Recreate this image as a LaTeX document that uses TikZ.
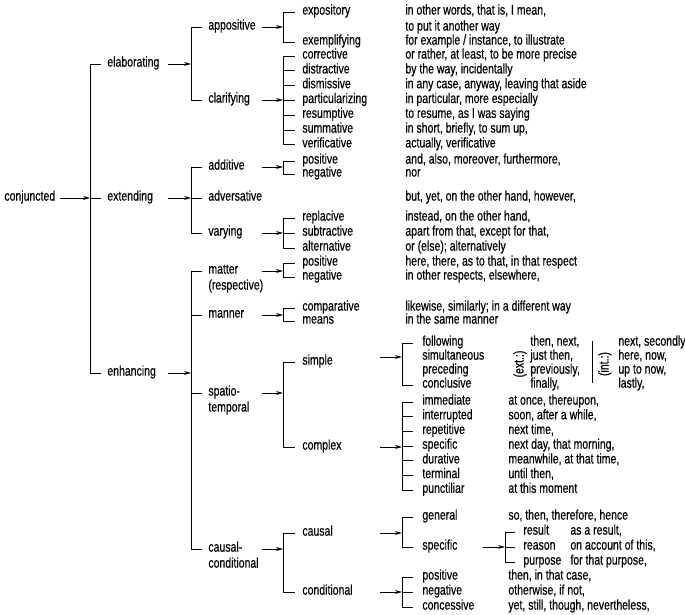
\documentclass[tikz,border=0pt]{standalone}
\usepackage{fontspec}
\setmainfont{Liberation Sans}[FakeStretch=0.75,FakeBold=0.4]
\usetikzlibrary{arrows.meta}

\begin{document}
\begin{tikzpicture}[x=1pt,y=-1pt,line width=0.8pt,
    lbl/.style={anchor=mid west,inner sep=0pt,font=\fontsize{14}{16}\selectfont},
    arr/.style={-{Stealth[length=7pt,width=4pt]}}]
    \useasboundingbox (0,0) rectangle (685,615);
    % columns of the brackets and of the arrow tails
    \coordinate (b1) at (90,0);
    \coordinate (b2) at (191,0);
    \coordinate (b3) at (283,0);
    \coordinate (b4) at (402,0);
    \coordinate (b5) at (505,0);
    \coordinate (a1) at (168,0);
    \coordinate (a2) at (262,0);
    \coordinate (a4) at (380,0);
    \coordinate (a5) at (483,0);

    % first levels
    \node[lbl] (conj) at (4,198) {conjuncted};
    \node[lbl] (elab) at (107,64) {elaborating};
    \node[lbl] (ext) at (107,198) {extending};
    \node[lbl] (enh) at (107,373) {enhancing};

    \node[lbl] (appos) at (208,27) {appositive};
    \node[lbl] (clar) at (208,100) {clarifying};
    \node[lbl] (addit) at (208,167) {additive};
    \node[lbl] (advers) at (208,198) {adversative};
    \node[lbl] (vary) at (208,233) {varying};
    % two-line labels: the base is the second line
    \node[lbl,align=left] (matter) at (208,287) {matter\\(respective)};
    \coordinate (matter-t) at ([yshift=16pt]matter.mid west);
    \node[lbl] (manner) at (208,315) {manner};
    \node[lbl,align=left] (spatio) at (208,409) {spatio-\\temporal};
    \coordinate (spatio-t) at ([yshift=16pt]spatio.mid west);
    \node[lbl,align=left] (caus) at (208,565) {causal-\\conditional};
    \coordinate (caus-t) at ([yshift=16pt]caus.mid west);

    % third level
    \node[lbl] (expos) at (302,12) {expository};
    \node[lbl] (exemp) at (302,42) {exemplifying};
    \node[lbl] (corr) at (302,56) {corrective};
    \node[lbl] (distr) at (302,70.8) {distractive};
    \node[lbl] (dism) at (302,85.6) {dismissive};
    \node[lbl] (partic) at (302,100.4) {particularizing};
    \node[lbl] (resum) at (302,115.2) {resumptive};
    \node[lbl] (summ) at (302,130) {summative};
    \node[lbl] (verif) at (302,144.8) {verificative};
    \node[lbl] (addpos) at (302,161) {positive};
    \node[lbl] (addneg) at (302,174) {negative};
    \node[lbl] (repl) at (302,218) {replacive};
    \node[lbl] (subtr) at (302,233) {subtractive};
    \node[lbl] (altern) at (302,248) {alternative};
    \node[lbl] (matpos) at (302,263) {positive};
    \node[lbl] (matneg) at (302,277) {negative};
    \node[lbl] (compar) at (302,308) {comparative};
    \node[lbl] (means) at (302,321) {means};
    \node[lbl] (simple) at (302,362) {simple};
    \node[lbl] (complex) at (302,447) {complex};
    \node[lbl] (causal) at (302,533) {causal};
    \node[lbl] (condit) at (302,592) {conditional};

    % examples
    \node[lbl] at (405,12) {in other words, that is, I mean,};
    \node[lbl] at (405,28) {to put it another way};
    \node[lbl] at (405,42) {for example / instance, to illustrate};
    \node[lbl] at (405,56) {or rather, at least, to be more precise};
    \node[lbl] at (405,70.8) {by the way, incidentally};
    \node[lbl] at (405,85.6) {in any case, anyway, leaving that aside};
    \node[lbl] at (405,100.4) {in particular, more especially};
    \node[lbl] at (405,115.2) {to resume, as I was saying};
    \node[lbl] at (405,130) {in short, briefly, to sum up,};
    \node[lbl] at (405,144.8) {actually, verificative};
    \node[lbl] at (405,161) {and, also, moreover, furthermore,};
    \node[lbl] at (405,174) {nor};
    \node[lbl] at (405,198) {but, yet, on the other hand, however,};
    \node[lbl] at (405,218) {instead, on the other hand,};
    \node[lbl] at (405,233) {apart from that, except for that,};
    \node[lbl] at (405,248) {or (else); alternatively};
    \node[lbl] at (405,263) {here, there, as to that, in that respect};
    \node[lbl] at (405,277) {in other respects, elsewhere,};
    \node[lbl] at (405,308) {likewise, similarly; in a different way};
    \node[lbl] at (405,321) {in the same manner};

    % fourth level
    \node[lbl] (follow) at (422,343) {following};
    \node[lbl] (simul) at (422,357) {simultaneous};
    \node[lbl] (preced) at (422,371) {preceding};
    \node[lbl] (concl) at (422,385) {conclusive};
    \node[lbl] (immed) at (422,402) {immediate};
    \node[lbl] (interr) at (422,416.7) {interrupted};
    \node[lbl] (repet) at (422,431.4) {repetitive};
    \node[lbl] (specif) at (422,446.1) {specific};
    \node[lbl] (durat) at (422,460.8) {durative};
    \node[lbl] (termin) at (422,475.5) {terminal};
    \node[lbl] (punct) at (422,490.2) {punctiliar};
    \node[lbl] (general) at (422,517) {general};
    \node[lbl] (specc) at (422,547) {specific};
    \node[lbl] (cpos) at (422,577) {positive};
    \node[lbl] (cneg) at (422,592) {negative};
    \node[lbl] (conces) at (422,607) {concessive};

    \node[lbl] (result) at (523,532) {result};
    \node[lbl] (reason) at (523,547) {reason};
    \node[lbl] (purpose) at (523,562) {purpose};

    % simple: external and internal
    \node[lbl,anchor=center,rotate=90] (extl) at (520,364) {(ext.:)};
    \node[lbl] at (530,343) {then, next,};
    \node[lbl] at (530,357) {just then,};
    \node[lbl] at (530,371) {previously,};
    \node[lbl] at (530,385) {finally,};
    \draw (592,341) -- (592,383);
    \node[lbl,anchor=center,rotate=90] (intl) at (605,364) {(int.:)};
    \node[lbl] at (618,343) {next, secondly};
    \node[lbl] at (618,357) {here, now,};
    \node[lbl] at (618,371) {up to now,};
    \node[lbl] at (618,385) {lastly,};

    \node[lbl] at (508,402) {at once, thereupon,};
    \node[lbl] at (508,416.7) {soon, after a while,};
    \node[lbl] at (508,431.4) {next time,};
    \node[lbl] at (508,446.1) {next day, that morning,};
    \node[lbl] at (508,460.8) {meanwhile, at that time,};
    \node[lbl] at (508,475.5) {until then,};
    \node[lbl] at (508,490.2) {at this moment};
    \node[lbl] at (508,517) {so, then, therefore, hence};
    \node[lbl] at (570,532) {as a result,};
    \node[lbl] at (570,547) {on account of this,};
    \node[lbl] at (570,562) {for that purpose,};
    \node[lbl] at (508,577) {then, in that case,};
    \node[lbl] at (508,592) {otherwise, if not,};
    \node[lbl] at (508,607) {yet, still, though, nevertheless,};

    % arrows
    \draw[arr] ([xshift=4pt]conj.mid east) -- (conj.mid west -| b1);
    \foreach \n in {elab.mid west,ext.mid west,enh.mid west}
        \draw[arr] (\n -| a1) -- (\n -| b2);
    \foreach \n in {appos.mid west,clar.mid west,addit.mid west,vary.mid west,matter-t,manner.mid west,spatio-t,caus-t}
        \draw[arr] (\n -| a2) -- (\n -| b3);
    \foreach \n in {simul,complex,causal,condit}
        \draw[arr] (\n.mid west -| a4) -- (\n.mid west -| b4);
    \draw[arr] (specc.mid west -| a5) -- (specc.mid west -| b5);

    % brackets
    \draw ([xshift=-6pt]elab.mid west) -- (elab.mid west -| b1) -- (enh.mid west -| b1) -- ([xshift=-6pt]enh.mid west);
    \draw (ext.mid west -| b1) -- ([xshift=-6pt]ext.mid west);

    \draw ([xshift=-6pt]appos.mid west) -- (appos.mid west -| b2) -- (clar.mid west -| b2) -- ([xshift=-6pt]clar.mid west);
    \draw ([xshift=-6pt]addit.mid west) -- (addit.mid west -| b2) -- (vary.mid west -| b2) -- ([xshift=-6pt]vary.mid west);
    \draw (advers.mid west -| b2) -- ([xshift=-6pt]advers.mid west);
    \draw ([xshift=-6pt]matter-t) -- (matter-t -| b2) -- (caus-t -| b2) -- ([xshift=-6pt]caus-t);
    \draw (manner.mid west -| b2) -- ([xshift=-6pt]manner.mid west);
    \draw (spatio-t -| b2) -- ([xshift=-6pt]spatio-t);

    \draw ([xshift=-7pt]expos.mid west) -- (expos.mid west -| b3) -- (exemp.mid west -| b3) -- ([xshift=-7pt]exemp.mid west);
    \draw ([xshift=-7pt]corr.mid west) -- (corr.mid west -| b3) -- (verif.mid west -| b3) -- ([xshift=-7pt]verif.mid west);
    \foreach \n in {distr,dism,partic,resum,summ}
        \draw (\n.mid west -| b3) -- ([xshift=-7pt]\n.mid west);
    \draw ([xshift=-7pt]addpos.mid west) -- (addpos.mid west -| b3) -- (addneg.mid west -| b3) -- ([xshift=-7pt]addneg.mid west);
    \draw ([xshift=-7pt]repl.mid west) -- (repl.mid west -| b3) -- (altern.mid west -| b3) -- ([xshift=-7pt]altern.mid west);
    \draw (subtr.mid west -| b3) -- ([xshift=-7pt]subtr.mid west);
    \draw ([xshift=-7pt]matpos.mid west) -- (matpos.mid west -| b3) -- (matneg.mid west -| b3) -- ([xshift=-7pt]matneg.mid west);
    \draw ([xshift=-7pt]compar.mid west) -- (compar.mid west -| b3) -- (means.mid west -| b3) -- ([xshift=-7pt]means.mid west);
    \draw ([xshift=-7pt]simple.mid west) -- (simple.mid west -| b3) -- (complex.mid west -| b3) -- ([xshift=-7pt]complex.mid west);
    \draw ([xshift=-7pt]causal.mid west) -- (causal.mid west -| b3) -- (condit.mid west -| b3) -- ([xshift=-7pt]condit.mid west);

    \draw ([xshift=-9pt]follow.mid west) -- (follow.mid west -| b4) -- (concl.mid west -| b4) -- ([xshift=-9pt]concl.mid west);
    \draw ([xshift=-9pt]immed.mid west) -- (immed.mid west -| b4) -- (punct.mid west -| b4) -- ([xshift=-9pt]punct.mid west);
    \foreach \n in {interr,repet,specif,durat,termin}
        \draw (\n.mid west -| b4) -- ([xshift=-9pt]\n.mid west);
    \draw ([xshift=-9pt]general.mid west) -- (general.mid west -| b4) -- (specc.mid west -| b4) -- ([xshift=-9pt]specc.mid west);
    \draw ([xshift=-9pt]cpos.mid west) -- (cpos.mid west -| b4) -- (conces.mid west -| b4) -- ([xshift=-9pt]conces.mid west);
    \draw (cneg.mid west -| b4) -- ([xshift=-9pt]cneg.mid west);

    \draw ([xshift=-8pt]result.mid west) -- (result.mid west -| b5) -- (purpose.mid west -| b5) -- ([xshift=-8pt]purpose.mid west);
    \draw (reason.mid west -| b5) -- ([xshift=-8pt]reason.mid west);
\end{tikzpicture}
\end{document}
